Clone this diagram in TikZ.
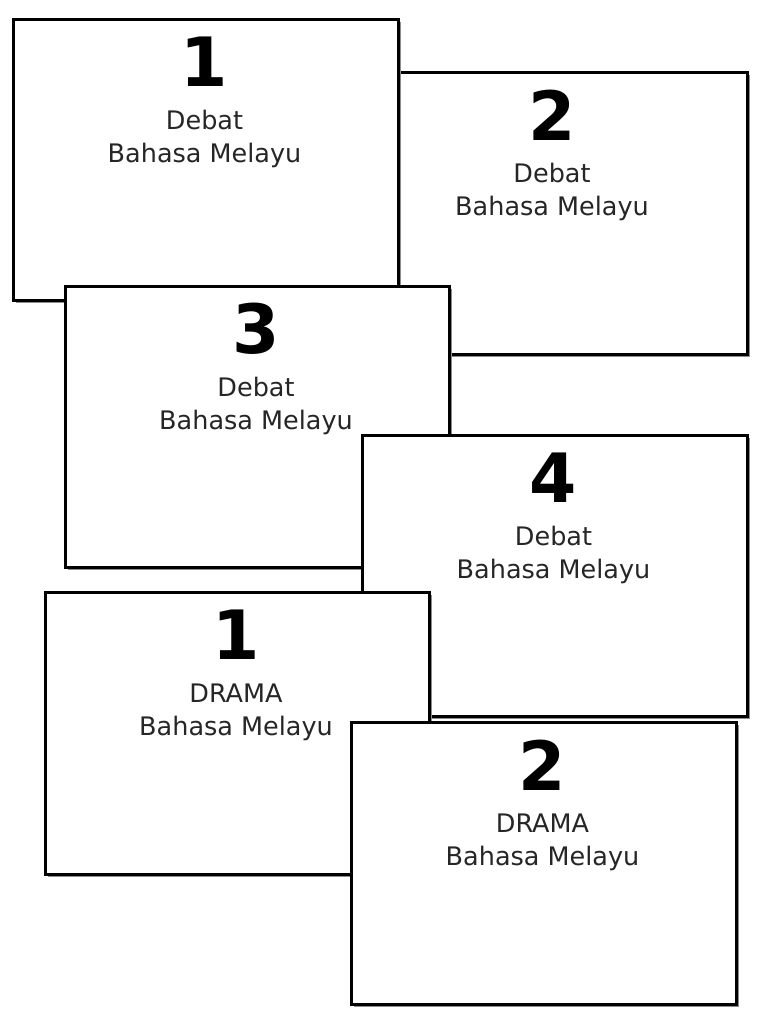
\documentclass[tikz,border=0pt]{standalone}
\usepackage{fontspec}
\setmainfont{DejaVu Sans}
\usetikzlibrary{shadows}
\tikzset{x=1pt,y=-1pt,
card/.style={draw=black,line width=2.6pt,fill=white,anchor=north west,inner sep=0pt,
  drop shadow={shadow xshift=2.5pt,shadow yshift=-2.5pt,fill=black!45,opacity=1}},
num/.style={font=\fontsize{68}{68}\selectfont\bfseries,inner sep=0pt},
lbl/.style={font=\fontsize{25.5}{33}\selectfont,text=black!85,align=center,inner sep=0pt}}
\newcommand{\mycard}[7]{% name x1 y1 x2 y2 number word
  \node[card,minimum width={#4-#2},minimum height={#5-#3}] (#1) at (#2,#3) {};
  \node[num] (#1n) at ({(#2+#4)/2},{#3+44}) {#6};
  \node[lbl] (#1t) at ({(#2+#4)/2},{#3+121}) {#7\\Bahasa Melayu};}
\begin{document}
\begin{tikzpicture}
\useasboundingbox[fill=white] (0,0) rectangle (768,1024);
\mycard{b}{358}{71}{746}{353}{2}{Debat}
\mycard{a}{12}{18}{397}{299}{1}{Debat}
\mycard{c}{64}{285}{448}{566}{3}{Debat}
\mycard{d}{361}{434}{746}{715}{4}{Debat}
\mycard{e}{44}{591}{428}{873}{1}{DRAMA}
\mycard{f}{350}{721}{735}{1003}{2}{DRAMA}
\end{tikzpicture}
\end{document}
